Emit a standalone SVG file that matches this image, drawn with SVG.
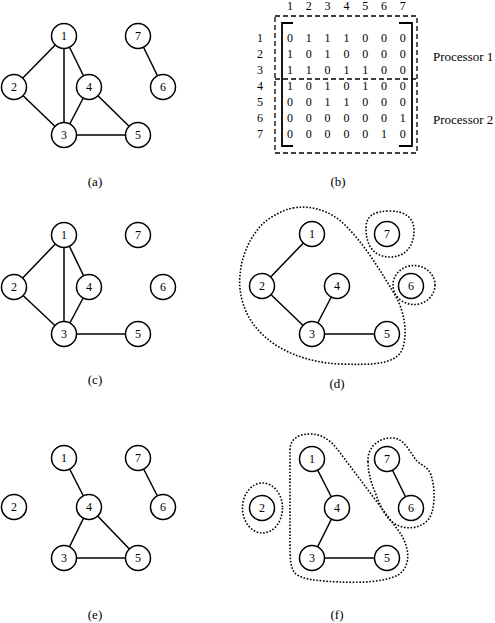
<svg xmlns="http://www.w3.org/2000/svg" width="495" height="623" viewBox="0 0 495 623" font-family="'Liberation Serif', 'DejaVu Serif', 'Times New Roman', serif">
<style>
.n circle{fill:#fff;stroke:#000;stroke-width:1.5}
text{fill:#000}
.n text{font-size:12px;text-anchor:middle}
.e line{stroke:#000;stroke-width:1.5}
.blob{fill:none;stroke:#000;stroke-width:1.6;stroke-dasharray:1.6 1.7}
.lbl{font-size:13px;text-anchor:middle}
.m{font-size:12px;text-anchor:middle}
.dash{fill:none;stroke:#000;stroke-width:1.3;stroke-dasharray:5 3}
.br{fill:none;stroke:#000;stroke-width:1.8}
</style>
<rect width="495" height="623" fill="#fff"/>

<!-- connectors -->
<g id="connectors" class="e">
  <!-- (a) -->
  <line x1="64" y1="36" x2="14" y2="87"/>
  <line x1="64" y1="36" x2="64" y2="135"/>
  <line x1="64" y1="36" x2="89" y2="87"/>
  <line x1="14" y1="87" x2="64" y2="135"/>
  <line x1="89" y1="87" x2="64" y2="135"/>
  <line x1="89" y1="87" x2="138" y2="135"/>
  <line x1="64" y1="135" x2="138" y2="135"/>
  <line x1="138" y1="36" x2="163" y2="87"/>
  <!-- (c) -->
  <line x1="64" y1="235" x2="14" y2="287"/>
  <line x1="64" y1="235" x2="64" y2="334"/>
  <line x1="64" y1="235" x2="89" y2="287"/>
  <line x1="14" y1="287" x2="64" y2="334"/>
  <line x1="89" y1="287" x2="64" y2="334"/>
  <line x1="64" y1="334" x2="138" y2="334"/>
  <!-- (d) -->
  <line x1="312" y1="234" x2="262" y2="286"/>
  <line x1="262" y1="286" x2="312" y2="334"/>
  <line x1="337" y1="286" x2="312" y2="334"/>
  <line x1="312" y1="334" x2="387" y2="334"/>
  <!-- (e) -->
  <line x1="64" y1="458" x2="89" y2="507"/>
  <line x1="89" y1="507" x2="64" y2="558"/>
  <line x1="89" y1="507" x2="138" y2="558"/>
  <line x1="64" y1="558" x2="138" y2="558"/>
  <line x1="138" y1="458" x2="163" y2="507"/>
  <!-- (f) -->
  <line x1="312" y1="459" x2="337" y2="508"/>
  <line x1="337" y1="508" x2="312" y2="558"/>
  <line x1="312" y1="558" x2="387" y2="558"/>
  <line x1="387" y1="459" x2="411" y2="508"/>
</g>

<!-- partition outlines -->
<g id="partitions">
  <path class="blob" d="M293,208 C310,205 330,210 345,225 C365,245 380,270 395,295 C405,312 408,335 402,350 C395,365 370,365 340,364 C310,363 280,352 262,334 C245,318 238,295 240,275 C242,250 255,228 270,218 C280,212 287,209 293,208 Z"/>
  <path class="blob" d="M366,228 C366,216 374,211 390,211 C405,211 414,218 414,230 C414,247 405,257 390,257 C374,257 366,246 366,228 Z"/>
  <ellipse class="blob" cx="414" cy="285" rx="21" ry="19.5"/>
  <ellipse class="blob" cx="262.5" cy="508" rx="20" ry="25"/>
  <path class="blob" d="M290,450 C290,438 300,434 310,434 C322,434 330,440 338,450 L398,530 C410,546 412,566 398,575 C385,582 360,583 340,582 C320,581 300,580 294,572 C290,566 290,555 290,545 Z"/>
  <path class="blob" d="M368,462 C367,446 380,437 394,438 C404,439 410,452 416,460 C420,465 428,466 431,475 C436,490 435,512 428,520 C420,529 405,530 395,524 C385,518 380,505 375,492 C370,480 368,470 368,462 Z"/>
</g>

<!-- (a) nodes -->
<g id="a1" class="n"><circle cx="64" cy="36" r="12.5"/><text x="64" y="40">1</text></g>
<g id="a2" class="n"><circle cx="14" cy="87" r="12.5"/><text x="14" y="91">2</text></g>
<g id="a3" class="n"><circle cx="64" cy="135" r="12.5"/><text x="64" y="139">3</text></g>
<g id="a4" class="n"><circle cx="89" cy="87" r="12.5"/><text x="89" y="91">4</text></g>
<g id="a5" class="n"><circle cx="138" cy="135" r="12.5"/><text x="138" y="139">5</text></g>
<g id="a6" class="n"><circle cx="163" cy="87" r="12.5"/><text x="163" y="91">6</text></g>
<g id="a7" class="n"><circle cx="138" cy="36" r="12.5"/><text x="138" y="40">7</text></g>
<text class="lbl" x="95" y="186">(a)</text>

<!-- (b) matrix -->
<g id="matrix">
  <rect class="dash" x="275" y="16" width="142" height="137"/>
  <line class="dash" x1="275" y1="79" x2="418" y2="79"/>
  <path class="br" d="M293,23 H282 V146 H293"/>
  <path class="br" d="M399,23 H412 V146 H399"/>
  <g class="m">
    <text x="290" y="10">1</text><text x="308.8" y="10">2</text><text x="327.6" y="10">3</text><text x="346.4" y="10">4</text><text x="365.2" y="10">5</text><text x="384" y="10">6</text><text x="402.8" y="10">7</text>
    <text x="260" y="41.5">1</text><text x="260" y="57.5">2</text><text x="260" y="73.5">3</text><text x="260" y="89.5">4</text><text x="260" y="105.5">5</text><text x="260" y="121.5">6</text><text x="260" y="137.5">7</text>
    <text x="290" y="41.5">0</text><text x="308.8" y="41.5">1</text><text x="327.6" y="41.5">1</text><text x="346.4" y="41.5">1</text><text x="365.2" y="41.5">0</text><text x="384" y="41.5">0</text><text x="402.8" y="41.5">0</text>
    <text x="290" y="57.5">1</text><text x="308.8" y="57.5">0</text><text x="327.6" y="57.5">1</text><text x="346.4" y="57.5">0</text><text x="365.2" y="57.5">0</text><text x="384" y="57.5">0</text><text x="402.8" y="57.5">0</text>
    <text x="290" y="73.5">1</text><text x="308.8" y="73.5">1</text><text x="327.6" y="73.5">0</text><text x="346.4" y="73.5">1</text><text x="365.2" y="73.5">1</text><text x="384" y="73.5">0</text><text x="402.8" y="73.5">0</text>
    <text x="290" y="89.5">1</text><text x="308.8" y="89.5">0</text><text x="327.6" y="89.5">1</text><text x="346.4" y="89.5">0</text><text x="365.2" y="89.5">1</text><text x="384" y="89.5">0</text><text x="402.8" y="89.5">0</text>
    <text x="290" y="105.5">0</text><text x="308.8" y="105.5">0</text><text x="327.6" y="105.5">1</text><text x="346.4" y="105.5">1</text><text x="365.2" y="105.5">0</text><text x="384" y="105.5">0</text><text x="402.8" y="105.5">0</text>
    <text x="290" y="121.5">0</text><text x="308.8" y="121.5">0</text><text x="327.6" y="121.5">0</text><text x="346.4" y="121.5">0</text><text x="365.2" y="121.5">0</text><text x="384" y="121.5">0</text><text x="402.8" y="121.5">1</text>
    <text x="290" y="137.5">0</text><text x="308.8" y="137.5">0</text><text x="327.6" y="137.5">0</text><text x="346.4" y="137.5">0</text><text x="365.2" y="137.5">0</text><text x="384" y="137.5">1</text><text x="402.8" y="137.5">0</text>
  </g>
  <text x="433" y="61" font-size="13">Processor 1</text>
  <text x="433" y="124" font-size="13">Processor 2</text>
</g>
<text class="lbl" x="338" y="186">(b)</text>

<!-- (c) nodes -->
<g id="c1" class="n"><circle cx="64" cy="235" r="12.5"/><text x="64" y="239">1</text></g>
<g id="c2" class="n"><circle cx="14" cy="287" r="12.5"/><text x="14" y="291">2</text></g>
<g id="c3" class="n"><circle cx="64" cy="334" r="12.5"/><text x="64" y="338">3</text></g>
<g id="c4" class="n"><circle cx="89" cy="287" r="12.5"/><text x="89" y="291">4</text></g>
<g id="c5" class="n"><circle cx="138" cy="334" r="12.5"/><text x="138" y="338">5</text></g>
<g id="c6" class="n"><circle cx="163" cy="287" r="12.5"/><text x="163" y="291">6</text></g>
<g id="c7" class="n"><circle cx="138" cy="235" r="12.5"/><text x="138" y="239">7</text></g>
<text class="lbl" x="95" y="384">(c)</text>

<!-- (d) nodes -->
<g id="d1" class="n"><circle cx="312" cy="234" r="12.5"/><text x="312" y="238">1</text></g>
<g id="d2" class="n"><circle cx="262" cy="286" r="12.5"/><text x="262" y="290">2</text></g>
<g id="d3" class="n"><circle cx="312" cy="334" r="12.5"/><text x="312" y="338">3</text></g>
<g id="d4" class="n"><circle cx="337" cy="286" r="12.5"/><text x="337" y="290">4</text></g>
<g id="d5" class="n"><circle cx="387" cy="334" r="12.5"/><text x="387" y="338">5</text></g>
<g id="d6" class="n"><circle cx="411" cy="286" r="12.5"/><text x="411" y="290">6</text></g>
<g id="d7" class="n"><circle cx="387" cy="234" r="12.5"/><text x="387" y="238">7</text></g>
<text class="lbl" x="337" y="388">(d)</text>

<!-- (e) nodes -->
<g id="e1" class="n"><circle cx="64" cy="458" r="12.5"/><text x="64" y="462">1</text></g>
<g id="e2" class="n"><circle cx="14" cy="507" r="12.5"/><text x="14" y="511">2</text></g>
<g id="e3" class="n"><circle cx="64" cy="558" r="12.5"/><text x="64" y="562">3</text></g>
<g id="e4" class="n"><circle cx="89" cy="507" r="12.5"/><text x="89" y="511">4</text></g>
<g id="e5" class="n"><circle cx="138" cy="558" r="12.5"/><text x="138" y="562">5</text></g>
<g id="e6" class="n"><circle cx="163" cy="507" r="12.5"/><text x="163" y="511">6</text></g>
<g id="e7" class="n"><circle cx="138" cy="458" r="12.5"/><text x="138" y="462">7</text></g>
<text class="lbl" x="95" y="619">(e)</text>

<!-- (f) nodes -->
<g id="f1" class="n"><circle cx="312" cy="459" r="12.5"/><text x="312" y="463">1</text></g>
<g id="f2" class="n"><circle cx="262" cy="508" r="12.5"/><text x="262" y="512">2</text></g>
<g id="f3" class="n"><circle cx="312" cy="558" r="12.5"/><text x="312" y="562">3</text></g>
<g id="f4" class="n"><circle cx="337" cy="508" r="12.5"/><text x="337" y="512">4</text></g>
<g id="f5" class="n"><circle cx="387" cy="558" r="12.5"/><text x="387" y="562">5</text></g>
<g id="f6" class="n"><circle cx="411" cy="508" r="12.5"/><text x="411" y="512">6</text></g>
<g id="f7" class="n"><circle cx="387" cy="459" r="12.5"/><text x="387" y="463">7</text></g>
<text class="lbl" x="337" y="619">(f)</text>
</svg>
